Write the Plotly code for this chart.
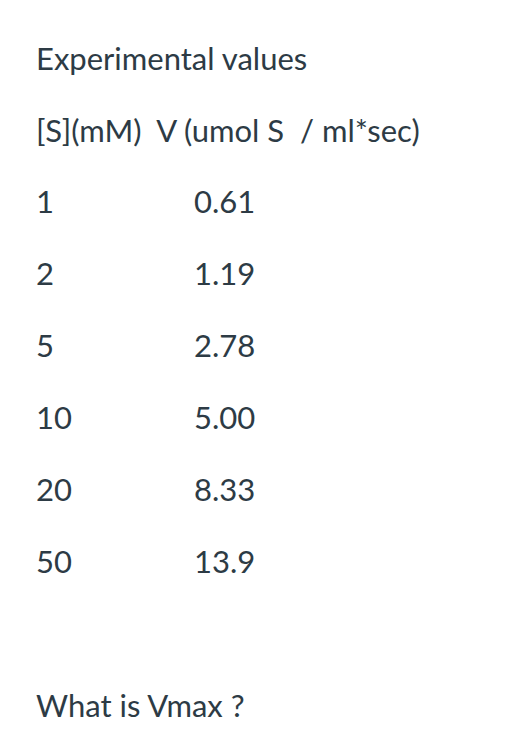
import plotly.graph_objects as go

title = "Experimental values"
header = "[S](mM)  V (umol S  / ml*sec)"
substrate = ["1", "2", "5", "10", "20", "50"]
velocity = ["0.61", "1.19", "2.78", "5.00", "8.33", "13.9"]
question = "What is Vmax ?"

W, H = 530, 739
font = dict(family="Lato", size=31, color="#2d3b45")
fig = go.Figure()
ann = []
def add(x, y, t, anchor="left"):
    ann.append(dict(x=x, y=y, text=t, xanchor=anchor, yanchor="middle", showarrow=False,
                    font=font, borderpad=0))
xl = 27
add(xl, 50, title)
add(xl, 122, header)
row_y = [193, 265, 337, 409, 481, 553]
for s, v, y in zip(substrate, velocity, row_y):
    add(xl, y, s)
    add(216, y, v, "center")
add(xl, 697, question)

fig.update_layout(
    width=W, height=H, margin=dict(l=0, r=0, t=0, b=0),
    paper_bgcolor="white", plot_bgcolor="white",
    xaxis=dict(range=[0, W], visible=False, fixedrange=True),
    yaxis=dict(range=[H, 0], visible=False, fixedrange=True),
    annotations=ann, showlegend=False,
)
fig.write_html("out.html")
